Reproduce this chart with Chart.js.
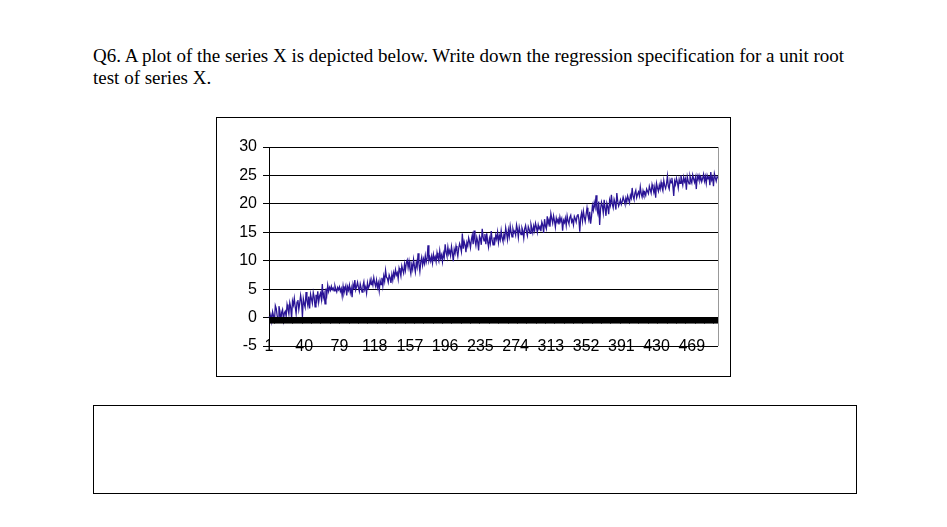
<!DOCTYPE html>
<html>
<head>
<meta charset="utf-8">
<script src="https://cdn.jsdelivr.net/npm/chart.js@4"></script>
<style>
  body { margin: 0; background: #fff; width: 947px; height: 527px; position: relative; font-family: "Liberation Serif", serif; }
  .q { position: absolute; left: 93px; top: 45px; font-size: 19px; line-height: 22px; color: #000; }
  .box { position: absolute; left: 216px; top: 117px; width: 513px; height: 258px; border: 1px solid #000; }
  .answer { position: absolute; left: 93px; top: 405px; width: 762px; height: 87px; border: 1px solid #000; }
</style>
</head>
<body>
<div class="q">Q6. A plot of the series X is depicted below. Write down the regression specification for a unit root<br>test of series X.</div>
<div class="box"><canvas id="chart"></canvas></div>
<div class="answer"></div>
<script>
// series X, one value per period
const seriesX = [
  0.2,-0.3,0.5,-0.6,1.0,0.3,-0.8,2.1,1.6,0.4,-0.5,2.0,1.2,-0.7,0.9,1.4,-0.4,0.8,1.1,0.2,
  2.3,1.5,0.6,2.6,1.8,-0.2,2.9,2.2,3.4,1.9,0.7,2.7,3.1,1.4,2.5,3.9,2.8,0.1,3.3,2.4,
  1.8,4.5,3.0,2.1,3.7,1.6,4.1,3.3,2.5,4.4,3.6,1.9,4.0,3.1,4.6,2.7,3.8,4.3,3.2,5.9,
  3.5,4.2,2.4,5.1,4.0,5.7,4.6,5.3,4.8,5.5,4.9,5.2,4.7,5.6,5.0,4.5,5.3,4.9,5.4,4.6,
  5.1,3.8,5.5,4.3,5.0,5.6,3.9,5.4,4.8,5.7,4.4,5.2,3.6,5.8,5.0,6.6,4.9,5.5,6.2,5.3,
  4.6,5.9,5.2,4.5,5.6,6.3,4.9,5.4,4.3,6.1,5.2,5.6,6.6,5.8,6.4,5.7,7.0,6.1,5.5,6.6,
  5.3,6.1,4.7,6.5,5.8,7.0,5.6,7.3,6.4,8.3,7.1,6.9,6.2,7.5,7.0,6.1,7.6,6.6,7.9,7.2,
  8.4,7.5,7.9,6.8,8.7,8.1,7.3,9.1,8.4,7.8,9.4,8.3,9.6,10.1,8.8,9.9,8.6,7.7,9.3,8.5,
  10.2,9.0,8.0,9.7,8.9,11.3,9.4,8.1,9.8,10.6,9.2,10.3,9.5,10.9,9.7,10.4,12.7,10.0,10.6,9.9,
  10.8,9.6,11.1,10.2,10.7,9.8,11.4,10.5,9.9,11.7,10.4,11.0,9.8,11.3,10.6,12.9,11.5,10.8,12.4,11.2,
  11.8,10.9,12.5,11.4,9.9,12.0,11.3,12.6,11.7,10.8,12.2,13.0,12.4,11.6,14.8,12.1,13.4,12.8,11.5,13.2,
  12.6,14.0,13.3,12.3,13.7,14.5,12.9,15.3,13.6,12.7,14.1,13.4,11.8,14.3,13.9,12.8,15.6,14.2,13.5,14.7,
  12.9,14.8,13.4,12.4,13.9,13.1,15.2,13.6,12.8,14.1,13.3,14.5,13.8,15.0,13.2,14.4,13.7,15.3,14.0,13.4,
  14.6,13.9,15.8,14.8,13.7,15.4,14.3,16.1,15.0,14.2,15.6,14.9,15.2,14.5,16.3,15.5,14.1,15.9,15.1,14.6,
  15.8,15.3,14.0,15.6,16.2,15.1,14.4,16.0,15.5,14.8,16.4,15.7,14.9,16.1,15.3,16.6,15.9,15.0,16.3,15.6,
  16.0,15.2,16.8,16.3,14.9,17.3,16.1,15.6,17.8,16.5,17.2,16.0,18.3,17.4,16.6,17.9,17.0,15.9,17.5,16.8,
  17.3,16.4,17.7,16.9,17.4,15.3,17.1,16.7,17.5,16.2,17.9,17.0,16.5,17.6,18.0,16.8,17.2,16.3,17.8,17.4,
  16.8,17.9,18.2,17.3,15.1,17.6,18.4,17.0,18.7,17.7,16.9,18.1,19.3,18.0,17.2,18.6,16.5,17.8,19.7,18.9,
  20.2,19.4,21.5,19.0,18.3,20.4,16.3,19.1,20.3,19.6,18.4,20.7,19.2,17.9,20.1,19.5,18.2,20.6,19.8,21.6,
  20.0,19.3,20.8,20.2,19.0,21.9,20.5,19.6,20.1,20.7,19.9,20.4,21.2,20.6,20.0,21.0,20.3,21.4,20.8,20.2,
  21.5,21.0,22.8,21.3,20.8,21.9,22.4,21.1,21.7,22.1,21.4,23.0,21.8,21.2,22.3,21.6,22.0,21.5,22.6,22.2,
  21.8,23.1,22.5,21.9,23.4,22.7,22.0,23.0,21.1,23.6,22.8,22.2,23.3,22.6,23.8,22.9,22.3,24.1,23.2,22.7,
  23.5,24.9,23.1,22.6,24.2,23.7,24.6,23.2,21.4,24.0,23.4,24.5,23.8,22.8,24.3,23.6,25.0,24.1,23.3,24.7,
  23.9,24.4,22.5,24.8,24.0,23.5,24.9,24.2,23.7,25.1,24.4,23.8,24.6,22.6,24.9,24.3,25.0,24.1,24.7,23.9,
  24.5,25.2,24.0,24.8,23.6,25.0,24.4,24.9,23.3,25.6,24.2,24.7,23.1,25.3,24.6,24.0,24.8,24.5
];
// periods 1..n, every 39th one is labelled
const periods = seriesX.map((v, i) => String(i + 1));
const labelStep = 39;
const yTicks = { min: -5, max: 30, step: 5 };

// excel-style tick marks on the category axis crossing at 0,
// and the category labels sitting on the -5 line
const zeroAxisTicks = {
  id: "zeroAxisTicks",
  afterDatasetsDraw(chart) {
    const ctx = chart.ctx, x = chart.scales.x, y = chart.scales.y;
    const y0 = y.getPixelForValue(0);
    ctx.save();
    ctx.strokeStyle = "#000";
    ctx.lineWidth = 1;
    ctx.beginPath();
    ctx.moveTo(x.left, y0); ctx.lineTo(x.right, y0);
    for (let i = 0; i < periods.length; i++) {
      const px = Math.round(x.getPixelForValue(i)) + 0.5;
      ctx.moveTo(px, y0); ctx.lineTo(px, y0 + 6);
    }
    ctx.stroke();
    // gray right edge of plot area
    ctx.strokeStyle = "#999";
    ctx.beginPath();
    ctx.moveTo(chart.chartArea.right + 0.5, chart.chartArea.top);
    ctx.lineTo(chart.chartArea.right + 0.5, chart.chartArea.bottom);
    ctx.stroke();
    // category labels
    ctx.fillStyle = "#000";
    ctx.font = "16px 'Liberation Sans'";
    ctx.textAlign = "center";
    ctx.textBaseline = "middle";
    const yb = y.getPixelForValue(yTicks.min) + 1;
    for (let i = 0; i < periods.length; i += labelStep) {
      ctx.fillText(periods[i], x.getPixelForValue(i), yb);
    }
    ctx.restore();
  }
};

new Chart(document.getElementById("chart"), {
  type: "line",
  data: {
    labels: periods,
    datasets: [{
      data: seriesX,
      borderColor: "#2a1496",
      borderWidth: 1.3,
      pointRadius: 0,
      tension: 0,
    }],
  },
  options: {
    responsive: true,
    maintainAspectRatio: false,
    animation: false,
    layout: { padding: { top: 29, right: 12, bottom: 0, left: 0 } },
    plugins: { legend: { display: false }, tooltip: { enabled: false } },
    scales: {
      x: {
        offset: false,
        grid: { display: false, drawTicks: false },
        border: { display: false },
        afterFit: (s) => { s.height = 30; },
        ticks: { display: false, autoSkip: false },
      },
      y: {
        min: yTicks.min,
        max: yTicks.max,
        afterFit: (s) => { s.width = 52; },
        grid: { color: "#000", lineWidth: 1, tickLength: 6 },
        border: { color: "#000" },
        ticks: {
          stepSize: yTicks.step,
          color: "#000",
          padding: 6,
          font: { family: "Liberation Sans", size: 16 },
        },
      },
    },
  },
  plugins: [zeroAxisTicks],
});
</script>
</body>
</html>
